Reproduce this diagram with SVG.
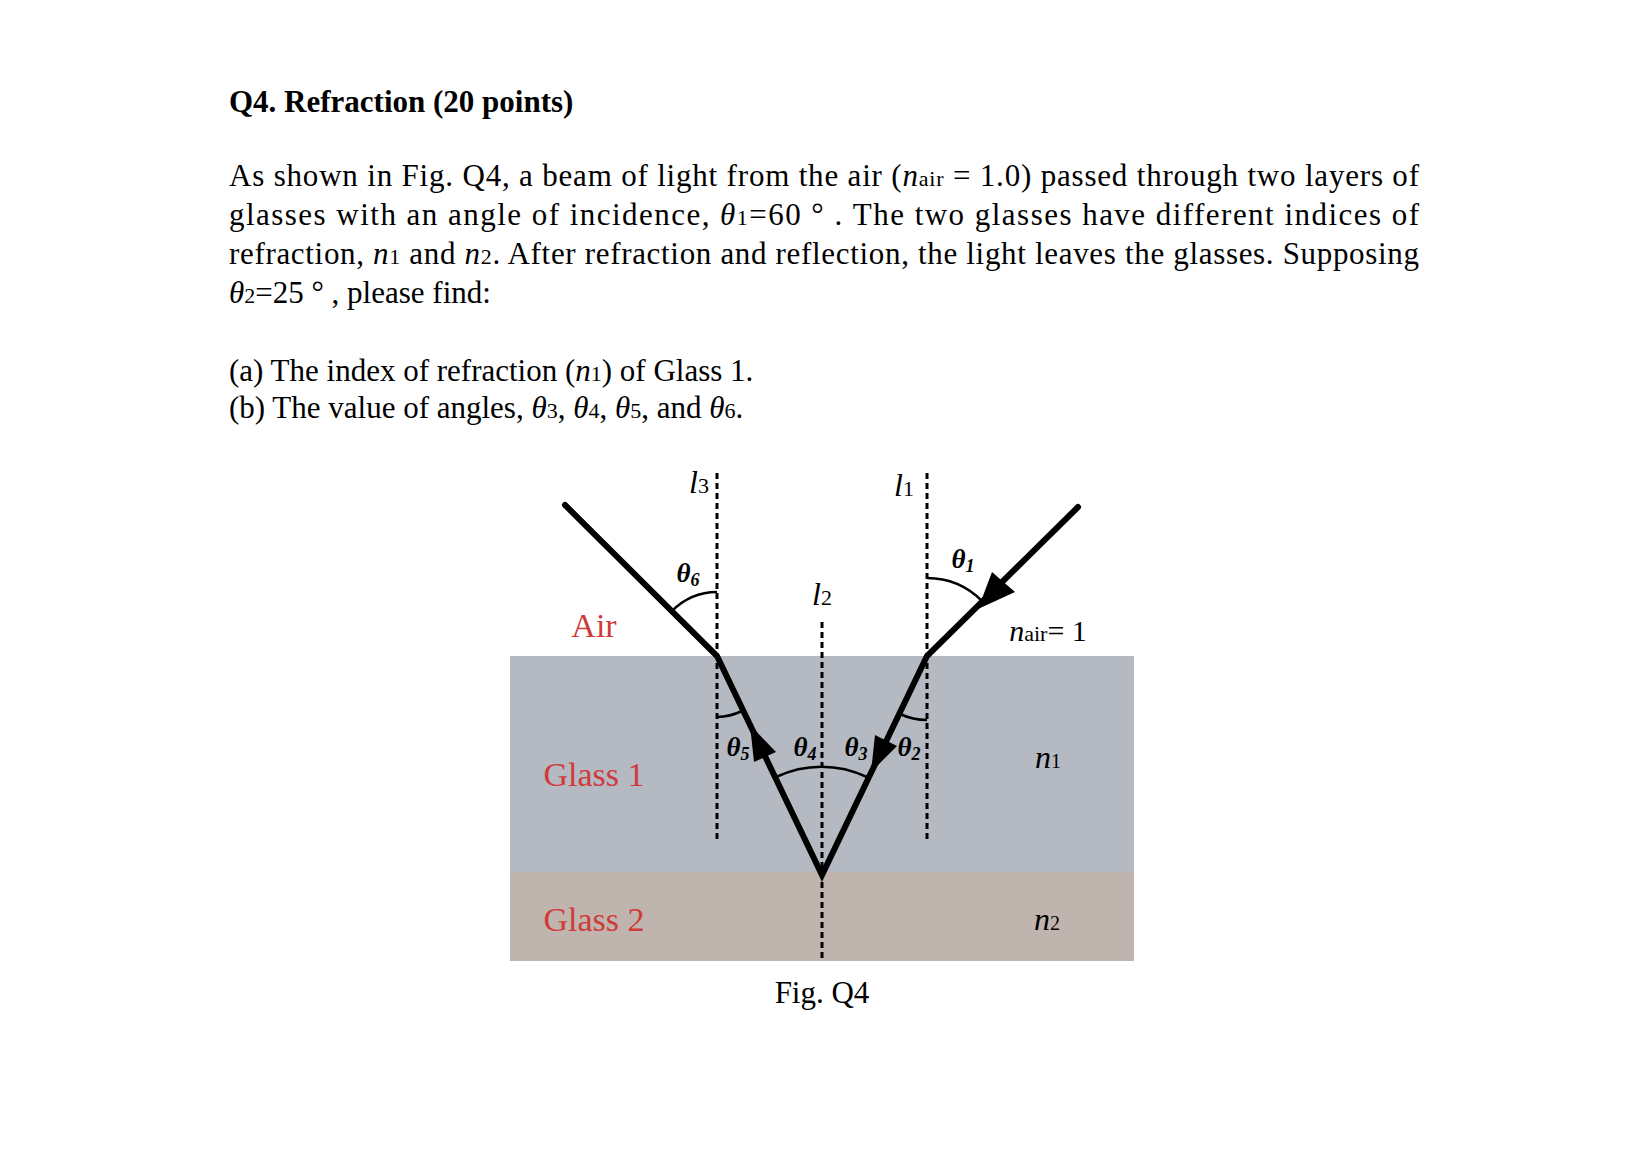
<svg xmlns="http://www.w3.org/2000/svg" width="1640" height="1174" viewBox="0 0 1640 1174">
<defs>
<style>
.t{font-family:"Liberation Serif",serif;font-size:31px;fill:#000}
.lab{font-family:"Liberation Serif",serif;fill:#000}
.red{font-family:"Liberation Serif",serif;font-size:34px;fill:#d03a3a;text-anchor:middle}
.th{font-family:"Liberation Serif",serif;font-size:27px;font-weight:bold;font-style:italic;text-anchor:middle}
.dash{stroke:#000;stroke-width:3;stroke-dasharray:6 4;fill:none}
.ray{stroke:#000;stroke-width:6;fill:none;stroke-linecap:round}
.arc{stroke:#000;stroke-width:2.5;fill:none}
</style>
</defs>
<rect width="1640" height="1174" fill="#fff"/>
<g id="text">
<text x="229" y="112" class="t" font-weight="bold">Q4. Refraction (20 points)</text>
<text x="229" y="186" class="t" textLength="1190" lengthAdjust="spacing">As shown in Fig. Q4, a beam of light from the air (<tspan font-style="italic">n</tspan><tspan font-size="22">air</tspan> = 1.0) passed through two layers of</text>
<text x="229" y="225" class="t" textLength="1190" lengthAdjust="spacing">glasses with an angle of incidence, <tspan font-style="italic">θ</tspan><tspan font-size="22">1</tspan>=60 °  . The two glasses have different indices of</text>
<text x="229" y="264" class="t" textLength="1190" lengthAdjust="spacing">refraction, <tspan font-style="italic">n</tspan><tspan font-size="22">1</tspan> and <tspan font-style="italic">n</tspan><tspan font-size="22">2</tspan>. After refraction and reflection, the light leaves the glasses. Supposing</text>
<text x="229" y="303" class="t"><tspan font-style="italic">θ</tspan><tspan font-size="22">2</tspan>=25 °  , please find:</text>
<text x="229" y="381" class="t">(a)  The index of refraction (<tspan font-style="italic">n</tspan><tspan font-size="22">1</tspan>) of Glass 1.</text>
<text x="229" y="418" class="t">(b)  The value of angles, <tspan font-style="italic">θ</tspan><tspan font-size="22">3</tspan>, <tspan font-style="italic">θ</tspan><tspan font-size="22">4</tspan>, <tspan font-style="italic">θ</tspan><tspan font-size="22">5</tspan>, and <tspan font-style="italic">θ</tspan><tspan font-size="22">6</tspan>.</text>
</g>
<g id="glass1"><rect x="510" y="656" width="624" height="216" fill="#b4b9c2"/>
<text x="594" y="786" class="red">Glass 1</text>
<text x="1048" y="768" class="lab" font-size="32" text-anchor="middle"><tspan font-style="italic">n</tspan><tspan font-size="20">1</tspan></text></g>
<g id="glass2"><rect x="510" y="872" width="624" height="89" fill="#c0b5ae"/>
<text x="594" y="931" class="red">Glass 2</text>
<text x="1047" y="930" class="lab" font-size="32" text-anchor="middle"><tspan font-style="italic">n</tspan><tspan font-size="20">2</tspan></text></g>
<g id="air">
<text x="594" y="637" class="red">Air</text>
<text x="1048" y="641" class="lab" font-size="30" text-anchor="middle"><tspan font-style="italic">n</tspan><tspan font-size="22">air</tspan>= 1</text>
</g>
<g id="connectors">
<line x1="717" y1="473" x2="717" y2="840" class="dash"/>
<line x1="927" y1="473" x2="927" y2="840" class="dash"/>
<line x1="822" y1="622" x2="822" y2="961" class="dash"/>
<polyline points="1078,507 927,656 822,875 717,656 565,505" class="ray"/>
<polygon points="978,609 992,572 1015,592" fill="#000"/>
<polygon points="871,772 897,746 875,735" fill="#000"/>
<polygon points="750,725 776,752 754,762" fill="#000"/>
<path d="M927,578 A78,78 0 0 1 982,601" class="arc"/>
<path d="M717,592 A64,64 0 0 0 672,611" class="arc"/>
<path d="M927,720 A64,64 0 0 1 900,714" class="arc"/>
<path d="M717,717 A61,61 0 0 0 742,711" class="arc"/>
<path d="M776,777 A105,105 0 0 1 867,777" class="arc"/>
</g>
<g id="labels">
<text x="699" y="493" class="lab" font-size="32" font-style="italic" text-anchor="middle">l<tspan font-size="22" font-style="normal">3</tspan></text>
<text x="904" y="496" class="lab" font-size="32" font-style="italic" text-anchor="middle">l<tspan font-size="22" font-style="normal">1</tspan></text>
<text x="822" y="605" class="lab" font-size="32" font-style="italic" text-anchor="middle">l<tspan font-size="22" font-style="normal">2</tspan></text>
<text x="963" y="568" class="th">θ<tspan font-size="18" dy="4">1</tspan></text>
<text x="688" y="582" class="th">θ<tspan font-size="18" dy="4">6</tspan></text>
<text x="738" y="756" class="th">θ<tspan font-size="18" dy="4">5</tspan></text>
<text x="805" y="756" class="th">θ<tspan font-size="18" dy="4">4</tspan></text>
<text x="856" y="756" class="th">θ<tspan font-size="18" dy="4">3</tspan></text>
<text x="909" y="756" class="th">θ<tspan font-size="18" dy="4">2</tspan></text>
<text x="822" y="1003" class="lab" font-size="31" text-anchor="middle">Fig. Q4</text>
</g>
</svg>
